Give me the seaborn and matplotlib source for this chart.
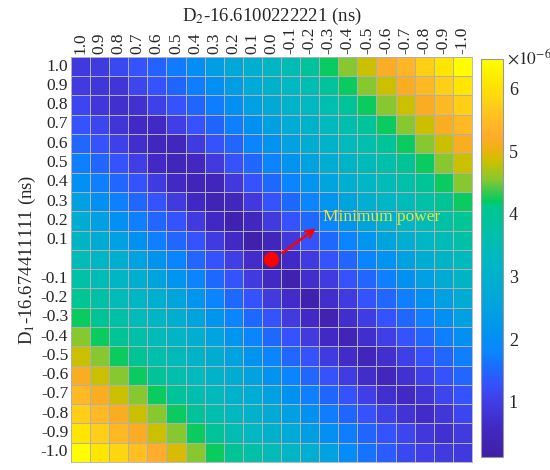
import numpy as np
import pandas as pd
import matplotlib
matplotlib.use('Agg')
import matplotlib.pyplot as plt
import seaborn as sns
from matplotlib.colors import LinearSegmentedColormap

# ---------------------------------------------------------
# data (power, x1e-6)
# ---------------------------------------------------------
d2_labels = ['1.0', '0.9', '0.8', '0.7', '0.6', '0.5', '0.4', '0.3', '0.2', '0.1', '0.0',
             '-0.1', '-0.2', '-0.3', '-0.4', '-0.5', '-0.6', '-0.7', '-0.8', '-0.9', '-1.0']
d1_labels = ['1.0', '0.9', '0.8', '0.7', '0.6', '0.5', '0.4', '0.3', '0.2', '0.1', '',
             '-0.1', '-0.2', '-0.3', '-0.4', '-0.5', '-0.6', '-0.7', '-0.8', '-0.9', '-1.0']

power = [
    [0.90, 0.95, 1.15, 1.30, 1.45, 1.70, 2.00, 2.40, 2.70, 2.95, 3.20, 3.50, 3.90, 4.22, 4.55, 4.85, 5.20, 5.40, 5.75, 6.10, 6.45],
    [0.92, 0.85, 0.82, 1.10, 1.30, 1.48, 1.72, 2.02, 2.42, 2.75, 3.00, 3.25, 3.55, 3.92, 4.22, 4.55, 4.85, 5.18, 5.45, 5.75, 6.10],
    [1.12, 0.85, 0.72, 0.75, 1.05, 1.28, 1.48, 1.72, 2.05, 2.45, 2.78, 3.05, 3.30, 3.58, 3.92, 4.22, 4.55, 4.85, 5.18, 5.45, 5.75],
    [1.30, 1.10, 0.82, 0.62, 0.62, 1.00, 1.28, 1.48, 1.75, 2.08, 2.48, 2.80, 3.08, 3.35, 3.60, 3.95, 4.22, 4.55, 4.85, 5.15, 5.45],
    [1.50, 1.30, 1.05, 0.70, 0.52, 0.52, 0.95, 1.28, 1.50, 1.78, 2.10, 2.50, 2.85, 3.10, 3.38, 3.62, 3.95, 4.22, 4.55, 4.85, 5.15],
    [1.75, 1.50, 1.30, 1.00, 0.62, 0.45, 0.55, 0.92, 1.28, 1.50, 1.78, 2.12, 2.52, 2.88, 3.15, 3.40, 3.65, 3.98, 4.22, 4.55, 4.85],
    [2.05, 1.75, 1.50, 1.30, 0.95, 0.60, 0.40, 0.48, 0.90, 1.28, 1.52, 1.80, 2.15, 2.55, 2.90, 3.18, 3.42, 3.68, 4.00, 4.22, 4.55],
    [2.45, 2.05, 1.75, 1.50, 1.30, 0.92, 0.58, 0.35, 0.50, 0.90, 1.30, 1.52, 1.80, 2.15, 2.58, 2.92, 3.20, 3.45, 3.70, 4.00, 4.22],
    [2.80, 2.45, 2.05, 1.75, 1.50, 1.30, 0.92, 0.58, 0.28, 0.52, 0.92, 1.30, 1.52, 1.80, 2.15, 2.58, 2.92, 3.22, 3.45, 3.72, 4.02],
    [3.15, 2.82, 2.45, 2.08, 1.75, 1.50, 1.30, 0.95, 0.62, 0.20, 0.48, 0.90, 1.30, 1.52, 1.78, 2.15, 2.58, 2.92, 3.20, 3.45, 3.72],
    [3.45, 3.20, 2.90, 2.50, 2.12, 1.80, 1.50, 1.30, 1.00, 0.68, 0.11, 0.62, 0.95, 1.30, 1.50, 1.78, 2.10, 2.48, 2.85, 3.15, 3.35],
    [3.72, 3.45, 3.20, 2.92, 2.58, 2.15, 1.78, 1.52, 1.30, 0.92, 0.62, 0.25, 0.70, 0.95, 1.30, 1.50, 1.75, 2.08, 2.45, 2.82, 3.15],
    [4.02, 3.72, 3.45, 3.22, 2.92, 2.58, 2.15, 1.80, 1.52, 1.30, 0.92, 0.65, 0.28, 0.70, 0.95, 1.30, 1.50, 1.75, 2.05, 2.45, 2.80],
    [4.22, 4.00, 3.70, 3.45, 3.20, 2.92, 2.58, 2.15, 1.80, 1.52, 1.30, 0.92, 0.62, 0.32, 0.70, 0.98, 1.30, 1.50, 1.75, 2.05, 2.45],
    [4.55, 4.22, 4.00, 3.68, 3.42, 3.18, 2.90, 2.55, 2.15, 1.80, 1.52, 1.28, 0.92, 0.62, 0.40, 0.70, 1.00, 1.30, 1.50, 1.75, 2.05],
    [4.85, 4.55, 4.22, 3.98, 3.65, 3.40, 3.15, 2.88, 2.52, 2.12, 1.78, 1.50, 1.28, 0.95, 0.65, 0.45, 0.72, 1.02, 1.30, 1.50, 1.75],
    [5.15, 4.85, 4.55, 4.22, 3.95, 3.62, 3.38, 3.10, 2.85, 2.50, 2.10, 1.78, 1.50, 1.28, 0.98, 0.68, 0.50, 0.75, 1.05, 1.30, 1.50],
    [5.45, 5.15, 4.85, 4.55, 4.22, 3.95, 3.60, 3.35, 3.08, 2.80, 2.48, 2.08, 1.75, 1.48, 1.28, 1.00, 0.72, 0.60, 0.82, 1.10, 1.30],
    [5.75, 5.45, 5.18, 4.85, 4.55, 4.22, 3.92, 3.58, 3.30, 3.05, 2.78, 2.45, 2.05, 1.72, 1.48, 1.28, 1.05, 0.80, 0.65, 0.85, 1.12],
    [6.10, 5.75, 5.45, 5.18, 4.85, 4.55, 4.22, 3.92, 3.55, 3.25, 3.00, 2.75, 2.42, 2.02, 1.72, 1.48, 1.30, 1.10, 0.88, 0.75, 0.92],
    [6.45, 6.10, 5.85, 5.55, 5.25, 4.90, 4.55, 4.22, 4.00, 3.70, 3.45, 3.20, 2.90, 2.50, 1.95, 1.62, 1.40, 1.15, 1.00, 0.92, 0.90],
]

cbar_ticks = [1, 2, 3, 4, 5, 6]
vmin, vmax = 0.11, 6.48

# ---------------------------------------------------------
# style
# ---------------------------------------------------------
sns.set_style('white')
plt.rcParams['font.family'] = ['Liberation Serif', 'DejaVu Serif']
plt.rcParams['mathtext.fontset'] = 'stix'

# parula-like colormap (value -> colour)
anchors = [
    (0.11, '#3e1fa6'), (0.6, '#4229c4'), (1.0, '#403ee6'), (1.3, '#3453ff'),
    (1.55, '#1a6cff'), (1.8, '#0a86ff'), (2.1, '#0093f0'), (2.5, '#00a2e0'),
    (2.9, '#00aed0'), (3.3, '#00b8c0'), (3.7, '#00c0a8'), (4.12, '#00c68e'),
    (4.2, '#00cc62'), (4.35, '#38c850'), (4.55, '#88c830'), (4.85, '#ccc000'),
    (5.05, '#f0b012'), (5.25, '#ffac2c'), (5.5, '#ffbc22'), (5.8, '#ffd214'),
    (6.1, '#ffe600'), (6.48, '#ffff00'),
]
cmap = LinearSegmentedColormap.from_list(
    'parula_like', [((v - vmin) / (vmax - vmin), c) for v, c in anchors], N=512)

df = pd.DataFrame(power, index=d1_labels, columns=d2_labels)

fig = plt.figure(figsize=(5.5, 4.7), dpi=100)
ax = fig.add_axes([0.129, 0.017, 0.729, 0.862])
cax = fig.add_axes([0.875, 0.027, 0.04, 0.848])

sns.heatmap(df, ax=ax, cbar_ax=cax, cmap=cmap, vmin=vmin, vmax=vmax,
            linewidths=0.55, linecolor='#b0b0b0',
            xticklabels=d2_labels, yticklabels=d1_labels)

ax.xaxis.tick_top()
ax.xaxis.set_label_position('top')
ax.tick_params(length=0, labelsize=12.5, pad=2)
plt.setp(ax.get_xticklabels(), rotation=90)
plt.setp(ax.get_yticklabels(), rotation=0)
ax.set_xlabel('D$_2$-16.6100222221 (ns)', fontsize=13.5, labelpad=4)
ax.set_ylabel('D$_1$-16.674411111 (ns)', fontsize=13.5, labelpad=2)
for s in ax.spines.values():
    s.set_visible(True)
    s.set_color('#b0b0b0')
    s.set_linewidth(0.6)

# minimum marker + annotation
arr = np.array(power)
imin, jmin = np.unravel_index(np.argmin(arr), arr.shape)
ax.plot(jmin + 0.5, imin + 0.5, 'o', color='red', ms=10, zorder=5)
ax.annotate('', xy=(jmin + 2.95, imin - 1.2), xytext=(jmin + 0.95, imin + 0.25),
            arrowprops=dict(arrowstyle='->', color='red', lw=1.8, mutation_scale=14))
ax.text(jmin + 3.2, imin - 1.7, 'Minimum power', color='#ece62e',
        fontsize=12.5, va='center', ha='left')

# colorbar
cbar = ax.collections[0].colorbar
cbar.set_ticks(cbar_ticks)
cbar.ax.tick_params(direction='in', length=3, width=0.6, color='#555555',
                    labelsize=13, pad=4)
cbar.outline.set_edgecolor('#999999')
cbar.outline.set_linewidth(0.8)
cbar.ax.text(1.15, 1.0, r'$\times10^{-6}$', transform=cbar.ax.transAxes,
             fontsize=12.5, ha='left', va='center')

plt.savefig('out.png', dpi=100)
